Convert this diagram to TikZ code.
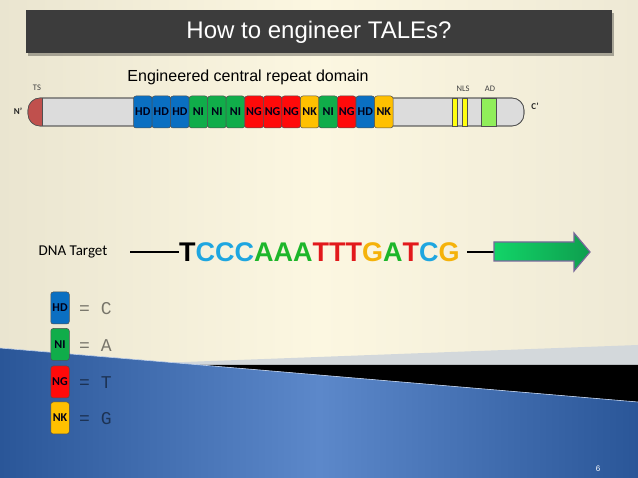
\documentclass[tikz,border=0pt]{standalone}
\usepackage{fontspec}
\setmainfont{Liberation Sans}
\newfontfamily\calfont{Carlito}
\newfontfamily\monofont{Liberation Mono}
\usetikzlibrary{shapes.arrows}
\definecolor{bgL}{HTML}{EAE5D0}
\definecolor{bgM}{HTML}{FCF7E1}
\definecolor{bgR}{HTML}{EEE9D5}
\definecolor{blueD}{HTML}{2A5698}
\definecolor{blueL}{HTML}{5C88CA}
\definecolor{wedge}{HTML}{D3D8DB}
\definecolor{titlebg}{HTML}{3C3C3C}
\definecolor{barfill}{HTML}{DCDCDC}
\definecolor{barline}{HTML}{505050}
\definecolor{tsred}{HTML}{C0504D}
\definecolor{rHD}{HTML}{0A6FC2}
\definecolor{rNI}{HTML}{10AD4A}
\definecolor{rNG}{HTML}{FF0A0A}
\definecolor{rNK}{HTML}{FFC000}
\definecolor{nls}{HTML}{FFFF10}
\definecolor{adg}{HTML}{90EE5A}
\definecolor{sC}{HTML}{1EA6E0}
\definecolor{sA}{HTML}{1DB62A}
\definecolor{sT}{HTML}{E2191B}
\definecolor{sG}{HTML}{F5B20A}
\definecolor{arrL}{HTML}{12D468}
\definecolor{arrR}{HTML}{0E9E4E}
\definecolor{arrEdge}{HTML}{77679A}
\tikzset{
  rep/.style={draw=barline, line width=0.5pt, rounded corners=2.5pt, minimum width=18.5pt, minimum height=32pt, inner sep=0pt, font=\calfont\bfseries\fontsize{12}{13}\selectfont, text=black!90!blue},
  HD/.style={rep, fill=rHD},
  NI/.style={rep, fill=rNI},
  NG/.style={rep, fill=rNG},
  NK/.style={rep, fill=rNK},
  small/.style={font=\calfont\fontsize{8.5}{9}\selectfont, text=black!75, inner sep=0pt},
  term/.style={font=\calfont\bfseries\fontsize{9}{10}\selectfont, text=black!85, inner sep=0pt},
  eqtxt/.style={anchor=west, inner sep=0pt, font=\monofont\fontsize{18}{20}\selectfont, text=black, opacity=0.5},
  dnaline/.style={line width=1.3pt, black}
}
\begin{document}
\begin{tikzpicture}[x=1pt,y=-1pt]
\useasboundingbox (0,0) rectangle (638,478);
% background
\shade[left color=bgL, right color=bgR, middle color=bgM] (0,0) rectangle (638,478);
\fill[wedge] (171,362.5) -- (638,345) -- (638,365) -- (200,365) -- cycle;
\fill[black] (200,365) -- (638,365) -- (638,402) -- cycle;
\shade[left color=blueD, right color=blueD, middle color=blueL] (0,348) -- (638,402) -- (638,478) -- (0,478) -- cycle;
\draw[white!60!blueL, line width=0.6pt] (0,348) -- (638,402);
% title
\fill[black, opacity=0.3] (28,13) rectangle (614,56);
\fill[titlebg] (26,10) rectangle (612,53);
\node[text=white, font=\fontsize{24}{28}\selectfont] (title) at (319,32) {How to engineer TALEs?};
% protein bar
\node[font=\fontsize{16}{19}\selectfont, inner sep=0pt] (domain) at (248,77) {Engineered central repeat domain};
\draw[barline, fill=barfill, line width=0.6pt, rounded corners=12pt] (28,98) rectangle (524,126);
\begin{scope}
\clip[rounded corners=12pt] (28,98) rectangle (524,126);
\fill[tsred] (28,98) rectangle (42,126);
\end{scope}
\draw[barline, line width=0.6pt, rounded corners=12pt] (28,98) rectangle (524,126);
\draw[barline, line width=0.6pt] (42,98) -- (42,126);
\draw[barline, fill=nls, line width=0.5pt] (452,98) rectangle (457,126);
\draw[barline, fill=nls, line width=0.5pt] (462,98) rectangle (467,126);
\draw[barline, fill=adg, line width=0.5pt] (481,98) rectangle (496,126);
\node[small] (ts) at (37,88) {TS};
\node[small] (nlsl) at (463,89) {NLS};
\node[small] (adl) at (490,89) {AD};
\node[term] (nterm) at (18,111) {N’};
\node[term] (cterm) at (535,106) {C’};
% repeats
\foreach \t [count=\i] in {HD,HD,HD,NI,NI,NI,NG,NG,NG,NK,NI,NG,HD,NK}
  \node[\t] (r\i) at ({133.5+18.54*(\i-0.5)},112) {\t};
% DNA target
\node[font=\calfont\fontsize{15}{17}\selectfont, inner sep=0pt] (dna) at (73,252) {DNA Target};
\coordinate (lstart) at (130,252);
\node[font=\bfseries\fontsize{27}{30}\selectfont, inner sep=0pt, anchor=west] (seq) at (179,252.5)
  {T\textcolor{sC}{CCC}\textcolor{sA}{AAA}\textcolor{sT}{TTT}\textcolor{sG}{G}\textcolor{sA}{A}\textcolor{sT}{T}\textcolor{sC}{C}\textcolor{sG}{G}};
\coordinate (atail) at (494,252);
\coordinate (lend) at (467,252);
\draw[dnaline] (lstart) -- (seq.west |- lstart);
\draw[dnaline] (lend) -- (atail);
\shade[left color=arrL, right color=arrR, draw=arrEdge, line width=1.2pt, line join=miter]
  (atail) |- (574,242) -- (574,233) -- (590,252) -- (574,271) -- (574,261) -| (atail) -- cycle;
% legend
\node[HD] (lhd) at (60,308) {HD};
\node[NI] (lni) at (60,344.5) {NI};
\node[NG] (lng) at (60,382) {NG};
\node[NK] (lnk) at (60,418) {NK};
\node[eqtxt] (ehd) at (79,309) {= C};
\node[eqtxt] (eni) at (79,345.5) {= A};
\node[eqtxt] (eng) at (79,383) {= T};
\node[eqtxt] (enk) at (79,419) {= G};
% page number
\node[text=white, font=\fontsize{8}{9}\selectfont, inner sep=0pt] (page) at (598,469) {6};
\end{tikzpicture}
\end{document}
